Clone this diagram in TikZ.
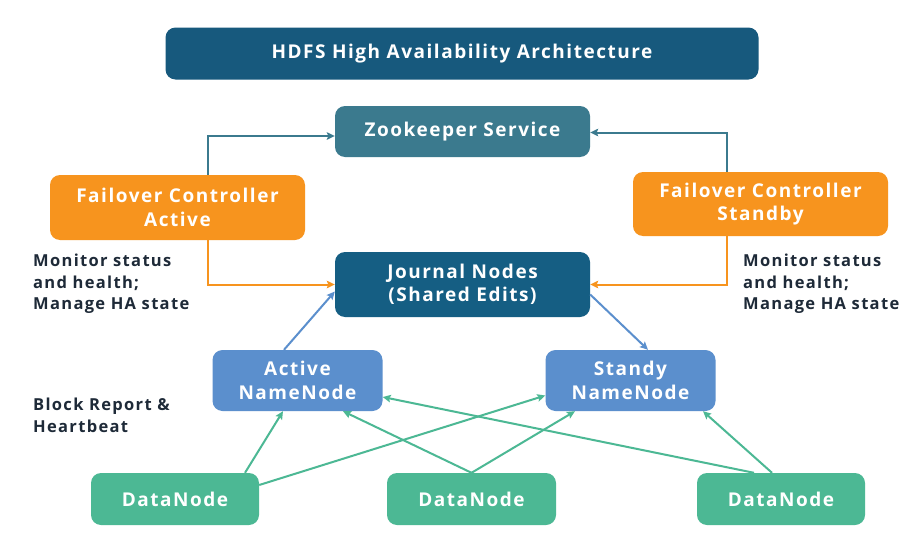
\documentclass[tikz,border=0pt]{standalone}
\usepackage{fontspec}
\setmainfont{Open Sans}[LetterSpace=8]
\usetikzlibrary{arrows.meta}
\definecolor{titlebg}{HTML}{17597D}
\definecolor{zkbg}{HTML}{3B7A8E}
\definecolor{jnbg}{HTML}{155E83}
\definecolor{orng}{HTML}{F7941E}
\definecolor{nnbg}{HTML}{5B8FCD}
\definecolor{dnbg}{HTML}{4CB894}
\definecolor{txtdark}{HTML}{1E2A38}
\tikzset{
  box/.style={rounded corners=10pt, text=white, font=\bfseries\fontsize{19}{23.5}\selectfont, align=center, inner sep=0pt},
  lbl/.style={text=txtdark, font=\bfseries\fontsize{16.5}{21.5}\selectfont, align=left, inner sep=0pt, anchor=north west},
  arr/.style={-{Stealth[length=8pt,width=7.5pt,inset=1.5pt]}, line width=2pt},
}
\begin{document}
\begin{tikzpicture}[x=1pt,y=-1pt]
\useasboundingbox[fill=white] (0,0) rectangle (922,546);
\node[box, fill=titlebg, minimum width=593pt, minimum height=52pt] (title) at (462,53.5) {HDFS High Availability Architecture};
\node[box, fill=zkbg, minimum width=255pt, minimum height=51pt] (zk) at (462.5,131.5) {Zookeeper Service};
\node[box, fill=orng, minimum width=255pt, minimum height=65pt] (fca) at (177.5,207.5) {Failover Controller\\Active};
\node[box, fill=orng, minimum width=255pt, minimum height=64pt] (fcs) at (760.5,204) {Failover Controller\\Standby};
\node[box, fill=jnbg, minimum width=255pt, minimum height=65pt] (jn) at (462.5,284.5) {Journal Nodes\\(Shared Edits)};
\node[box, fill=nnbg, minimum width=170pt, minimum height=61pt] (ann) at (297.5,380.5) {Active\\NameNode};
\node[box, fill=nnbg, minimum width=170pt, minimum height=61pt] (snn) at (630.5,380.5) {Standy\\NameNode};
\node[box, fill=dnbg, minimum width=168pt, minimum height=52pt] (dn1) at (175,499) {DataNode};
\node[box, fill=dnbg, minimum width=169pt, minimum height=52pt] (dn2) at (471.5,499) {DataNode};
\node[box, fill=dnbg, minimum width=168pt, minimum height=52pt] (dn3) at (781,499) {DataNode};
\node[lbl] (lmon) at (33,254) {Monitor status\\and health;\\Manage HA state};
\node[lbl] (rmon) at (743,254) {Monitor status\\and health;\\Manage HA state};
\node[lbl] (blk) at (33,398) {Block Report \&\\Heartbeat};
% failover to zookeeper
\draw[arr, zkbg] ([xshift=30.5pt]fca.north) |- ([yshift=-4.5pt]zk.west);
\draw[arr, zkbg] ([xshift=-33.5pt]fcs.north) |- ([yshift=-1pt]zk.east);
% failover to journal
\draw[arr, orng] ([xshift=30.5pt]fca.south) |- (jn.west);
\draw[arr, orng] ([xshift=-33.5pt]fcs.south) |- (jn.east);
% namenodes and journal
\draw[arr, nnbg] ([xshift=-13.5pt]ann.north) -- ([yshift=-7pt]jn.west);
\draw[arr, nnbg] ([yshift=-10pt]jn.east) -- ([xshift=17.5pt]snn.north);
% datanodes
\draw[arr, dnbg] ([xshift=70pt]dn1.north) -- ([xshift=-14.5pt]ann.south);
\draw[arr, dnbg] ([yshift=14pt]dn1.east) -- ([yshift=-15pt]snn.west);
\draw[arr, dnbg] (dn2.north) -- ([xshift=45.5pt]ann.south);
\draw[arr, dnbg] (dn2.north) -- ([xshift=-55.5pt]snn.south);
\draw[arr, dnbg] ([xshift=-27pt]dn3.north) -- ([yshift=-16.5pt]ann.east);
\draw[arr, dnbg] ([xshift=-9pt]dn3.north) -- ([xshift=72.5pt]snn.south);
\end{tikzpicture}
\end{document}
